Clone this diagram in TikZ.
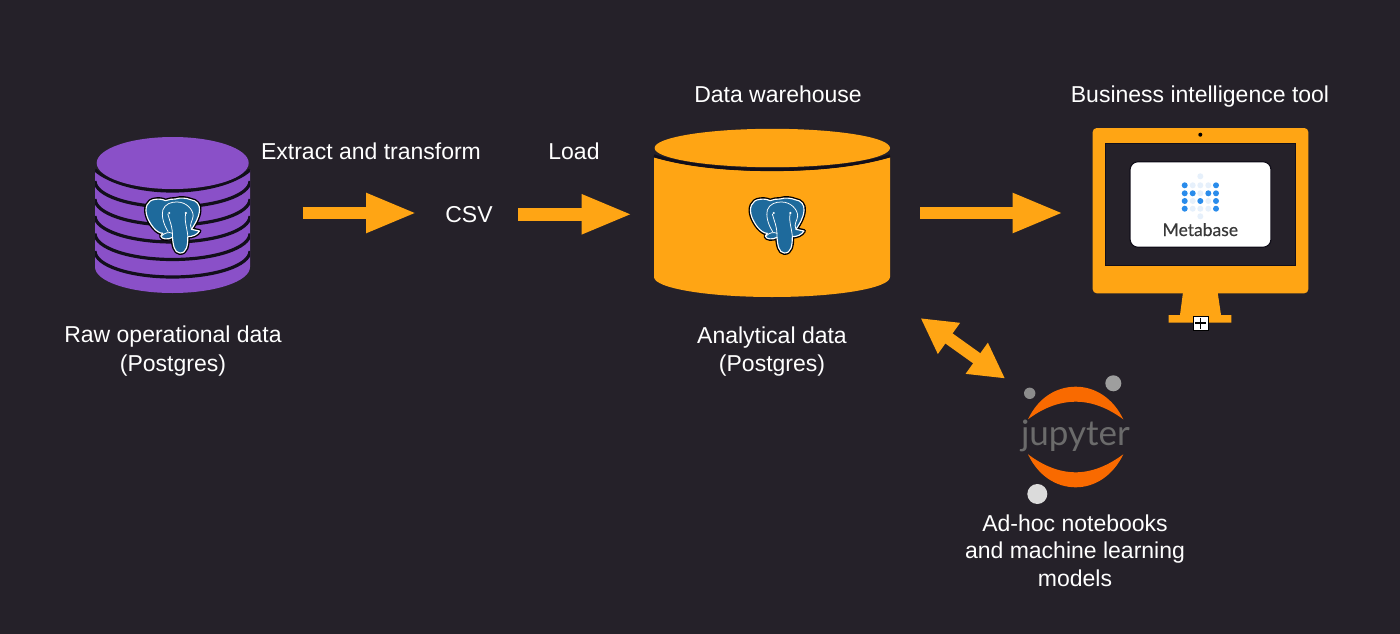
\documentclass[tikz,border=0pt]{standalone}
\usepackage{fontspec}
\setmainfont{Liberation Sans}
\newfontfamily\latofont{Lato}
\newfontfamily\latoheavy[FakeBold=0.35]{Lato}
\usetikzlibrary{arrows.meta}
\definecolor{bgdark}{HTML}{252129}
\definecolor{flow}{HTML}{FFA514}
\definecolor{dbpurple}{HTML}{8A50C8}
\definecolor{pgblue}{HTML}{1E6A9C}
\definecolor{lineblack}{HTML}{120F1A}
\definecolor{mbblue}{HTML}{2A8CEB}
\definecolor{mbpale}{HTML}{E6F0FB}
\definecolor{jorange}{HTML}{F96A00}
\tikzset{
  label/.style={text=white,font=\fontsize{23}{23}\selectfont,anchor=base,inner sep=0pt},
  bigarrow/.style={draw=flow,line width=12.4pt,-{Triangle[length=51pt,width=36.5pt]}},
  twoarrow/.style={draw=flow,line width=12.4pt,{Triangle[length=35pt,width=35.6pt]}-{Triangle[length=35pt,width=35.6pt]}},
  mbdot/.style={circle,fill=mbblue,minimum size=6pt,inner sep=0pt},
  mbfaint/.style={circle,fill=mbpale,minimum size=6pt,inner sep=0pt},
  eleline/.style={white,line width=0.75pt,line cap=round},
}
\newcommand{\pgelephant}[1]{%
  \begin{scope}[shift={#1},scale=1/3]
    \def\elepath{(150,57) .. controls (165,52) and (183,54) .. (195,59)
      .. controls (214,61) and (224,75) .. (222,92)
      .. controls (220,115) and (208,132) .. (198,148)
      -- (222,153) .. controls (215,165) and (200,170) .. (187,170)
      .. controls (187,195) and (184,220) .. (163,219)
      .. controls (146,218) and (143,195) .. (141,172)
      .. controls (128,180) and (108,178) .. (106,168)
      -- (112,160) .. controls (92,160) and (72,130) .. (65,110)
      .. controls (56,85) and (64,60) .. (90,58)
      .. controls (100,56) and (112,58) .. (120,62)
      .. controls (130,58) and (140,57) .. (150,57) -- cycle}
    \draw[line width=3.9pt,draw=black,fill=black,line join=round] \elepath;
    \draw[line width=1.15pt,draw=white,fill=pgblue,line join=round] \elepath;
    \draw[eleline]
      (128,155) .. controls (112,130) and (108,105) .. (112,90)
      .. controls (118,72) and (138,65) .. (155,66)
      .. controls (182,66) and (203,88) .. (203,108)
      .. controls (202,122) and (190,132) .. (198,148);
    \draw[eleline] (127,102) .. controls (132,122) and (142,140) .. (141,172);
    \draw[eleline] (180,102) .. controls (176,122) and (184,140) .. (187,168);
    \draw[eleline] (108,168) .. controls (118,158) and (130,155) .. (141,160);
    \fill[white] (131,99) circle (3.5);
    \fill[white] (181,99) circle (3.5);
  \end{scope}}
\begin{document}
\begin{tikzpicture}[x=1pt,y=-1pt]
\useasboundingbox (0,0) rectangle (1400,634);
\fill[bgdark] (0,0) rectangle (1400,634);

% purple stacked database
\fill[dbpurple] (95,170) -- (95,267) arc[start angle=180,end angle=360,x radius=77.5,y radius=-26] -- (250,170)
  .. controls (235,183) and (205,191) .. (172.5,191) .. controls (140,191) and (110,183) .. (95,170) -- cycle;
\begin{scope}
  \clip (95,160) rectangle (250,300);
  \draw[lineblack,line width=3.2pt] (95,170) .. controls (110,183) and (140,191) .. (172.5,191) .. controls (205,191) and (235,183) .. (250,170);
  \foreach \yc in {251,233.5,216,199,181}{
    \draw[lineblack,line width=3.2pt] (95,\yc) arc[start angle=180,end angle=360,x radius=77.5,y radius=-26];
  }
\end{scope}
\fill[dbpurple] (172.7,163) ellipse[x radius=76,y radius=26];
\pgelephant{(125.5,180)}

% orange warehouse cylinder
\fill[flow] (654,157.3) -- (654,277) arc[start angle=180,end angle=360,x radius=118,y radius=-20] -- (890,157.3)
  .. controls (860,166) and (820,171) .. (772,171) .. controls (724,171) and (684,166) .. (654,157.3) -- cycle;
\draw[lineblack,line width=3pt] (654,155.8) .. controls (684,164.8) and (724,169.6) .. (772,169.6) .. controls (820,169.6) and (860,164.8) .. (890,155.8);
\fill[flow] (772.3,148) ellipse[x radius=117.7,y radius=19.2];
\pgelephant{(730,180)}

% block arrows
\coordinate (a1s) at (302.5,213);
\coordinate (a1e) at (417,213);
\coordinate (a2s) at (518,214.3);
\coordinate (a2e) at (632.5,214.3);
\coordinate (a3s) at (920,213);
\coordinate (a3e) at (1063.5,213);
\coordinate (a4s) at (920.5,318.1);
\coordinate (a4e) at (1005.2,378.6);
\draw[bigarrow] (a1s) -- (a1e);
\draw[bigarrow] (a2s) -- (a2e);
\draw[bigarrow] (a3s) -- (a3e);
\draw[twoarrow] (a4s) -- (a4e);

% monitor
\fill[flow] (1183.3,290) -- (1217.3,290) -- (1221,315) -- (1231.3,315) -- (1231.3,322.7) -- (1168.7,322.7) -- (1168.7,315) -- (1180,315) -- cycle;
\fill[flow,rounded corners=4pt] (1092.7,128) rectangle (1308.3,293.3);
\filldraw[fill=bgdark,draw=lineblack,line width=0.8pt] (1105.3,143.3) rectangle (1295.7,265);
\fill[black] (1200.3,134.7) circle (2);
\draw[fill=white,draw=lineblack,line width=1.2pt,rounded corners=8pt] (1130,161.7) rectangle (1271,247.3);
\foreach \xc/\yc in {1200.3/176.3,1192.7/185.3,1200.3/185.3,1208.3/185.3,1200.3/193.3,1192.7/201,1208.3/201,1192.7/208.7,1200.3/208.7,1208.3/208.7,1200.3/216.3}
  \node[mbfaint] at (\xc,\yc) {};
\foreach \xc/\yc in {1184.7/185.3,1216/185.3,1184.7/193.3,1192.7/193.3,1208.3/193.3,1216/193.3,1184.7/201,1200.3/201,1216/201,1184.7/208.7,1216/208.7}
  \node[mbdot] at (\xc,\yc) {};
\node[anchor=base,inner sep=0pt,text=black!78,font=\latoheavy\fontsize{17.5}{17.5}\selectfont] (metabase) at (1200.3,236) {Metabase};
\draw[fill=white,draw=black,line width=1pt] (1193,316) rectangle (1208.3,330);
\draw[black,line width=1.3pt] (1200.6,317.5) -- (1200.6,328.5) (1195,323) -- (1206.3,323);

% jupyter logo
\fill[jorange] (1028,419.3) .. controls (1038,398) and (1056,386.7) .. (1075.7,386.7)
  .. controls (1095,386.7) and (1113,398) .. (1123.3,419.3)
  .. controls (1108,408) and (1092,401.7) .. (1075.7,401.7)
  .. controls (1059,401.7) and (1043,408) .. (1028,419.3) -- cycle;
\fill[jorange] (1028,454.3) .. controls (1038,475.6) and (1056,487.3) .. (1075.7,487.3)
  .. controls (1095,487.3) and (1113,475.6) .. (1123.3,454.3)
  .. controls (1108,465.6) and (1092,472.3) .. (1075.7,472.3)
  .. controls (1059,472.3) and (1043,465.6) .. (1028,454.3) -- cycle;
\fill[black!38] (1113.3,383.3) circle (8);
\fill[black!45] (1029.7,393.3) circle (5.7);
\fill[black!14] (1037.3,494) circle (10);
\node[anchor=base,inner sep=0pt,text=black!58,font=\latofont\fontsize{35}{35}\selectfont] (jupytertxt) at (1075.4,445) {jupyter};

% labels
\node[label] (rawa) at (173,342) {Raw operational data};
\node[label] (rawb) at (173,371) {(Postgres)};
\node[label] (extract) at (371,159.5) {Extract and transform};
\node[label] (load) at (574,159.5) {Load};
\node[label] (csv) at (469,222) {CSV};
\node[label] (dw) at (778,102.5) {Data warehouse};
\node[label] (bi) at (1200,102.5) {Business intelligence tool};
\node[label] (ana) at (772,343) {Analytical data};
\node[label] (anb) at (772,371) {(Postgres)};
\node[label] (adha) at (1075,531) {Ad-hoc notebooks};
\node[label] (adhb) at (1075,558.5) {and machine learning};
\node[label] (adhc) at (1075,586) {models};
\end{tikzpicture}
\end{document}
